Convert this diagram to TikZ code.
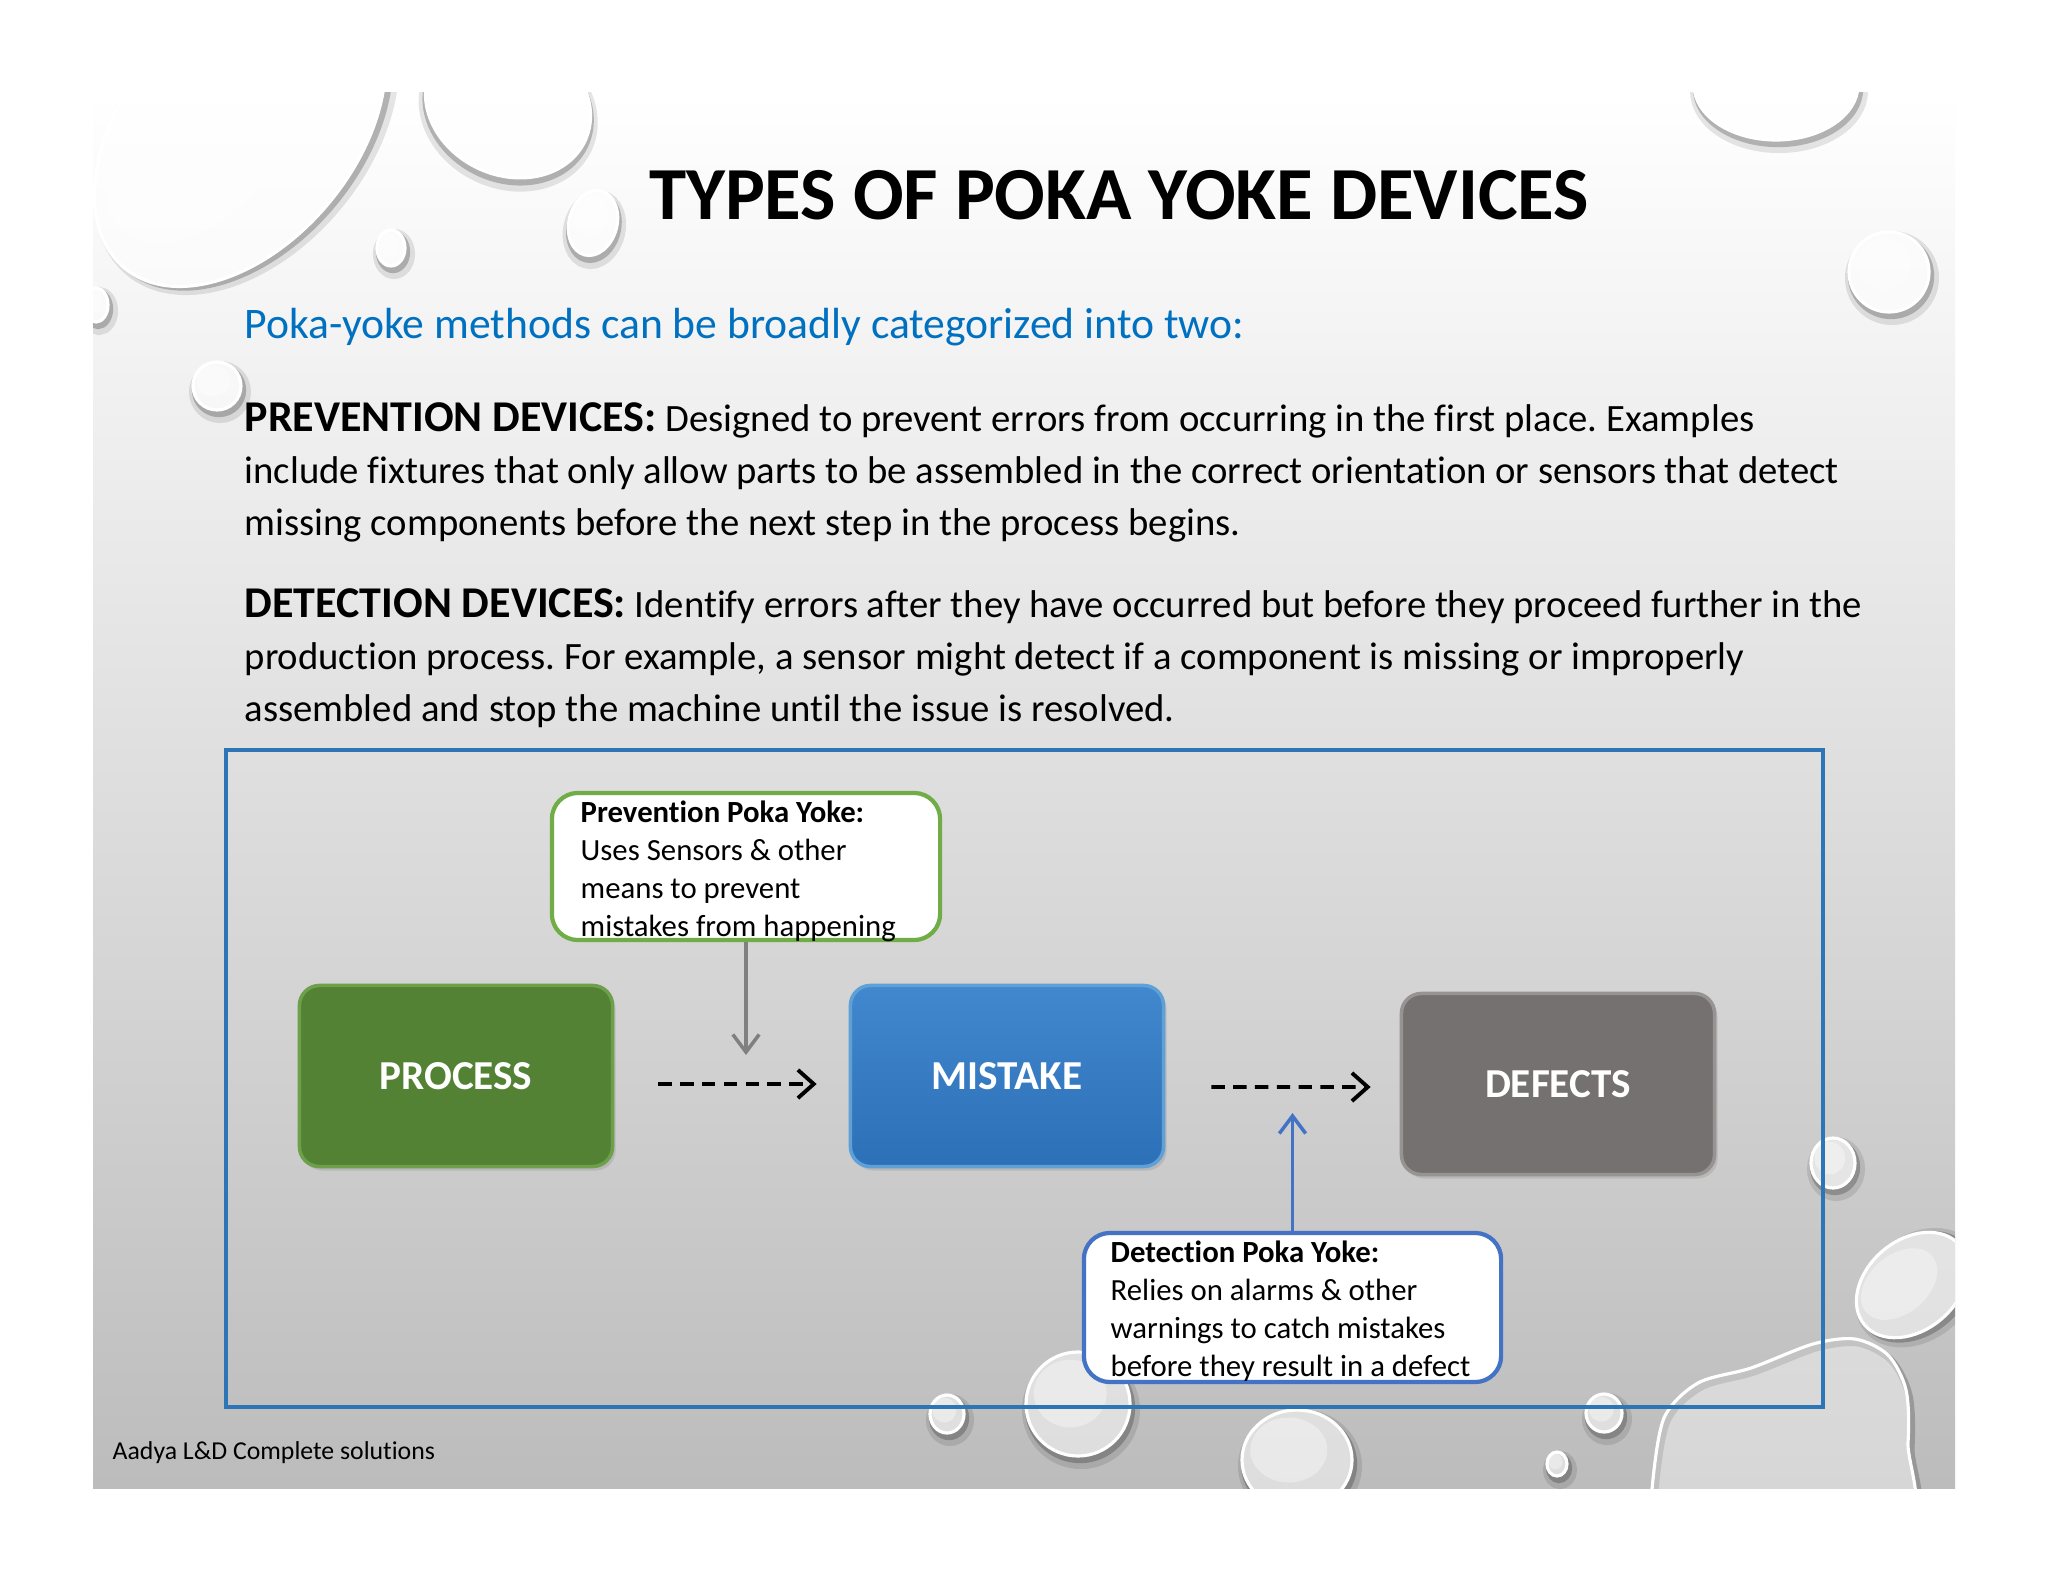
\documentclass[tikz,border=0pt]{standalone}
\usepackage{fontspec}
\setmainfont{Carlito}[Ligatures=NoCommon]
\usetikzlibrary{arrows.meta,shadows}
\definecolor{slideblue}{RGB}{46,117,182}
\definecolor{subblue}{RGB}{0,112,192}
\definecolor{procgreen}{RGB}{84,130,53}
\definecolor{procedge}{RGB}{110,160,75}
\definecolor{mistop}{RGB}{66,136,206}
\definecolor{misbot}{RGB}{44,112,184}
\definecolor{misedge}{RGB}{95,160,215}
\definecolor{defgray}{RGB}{117,113,112}
\definecolor{defedge}{RGB}{150,147,146}
\definecolor{calgreen}{RGB}{112,173,71}
\definecolor{calblue}{RGB}{68,114,196}
\definecolor{arrgray}{RGB}{128,128,128}
\definecolor{bgmid}{RGB}{231,231,231}
\definecolor{bgbot}{RGB}{188,188,188}
\newcommand\wdrop[5]{%
  \begin{scope}[rotate around={#5:(#1,#2)}]
    \begin{scope}[even odd rule]
      \clip (-500,-500) rectangle (2600,2100) (#1,#2) ellipse [x radius=#3, y radius=#4];
      \draw[black, opacity=0.10, line width=4pt] (#1+3,#2+6) ellipse [x radius=#3, y radius=#4];
      \draw[black, opacity=0.22, line width=1.8pt] (#1+2,#2+4) ellipse [x radius=#3, y radius=#4];
    \end{scope}
    \fill[white, opacity=0.5] (#1,#2) ellipse [x radius=#3, y radius=#4];
    \fill[white, opacity=0.35] (#1-0.15*#3,#2-0.2*#4) ellipse [x radius=0.7*#3, y radius=0.65*#4];
    \draw[white, line width=0.9pt] (#1,#2) ellipse [x radius=#3, y radius=#4];
  \end{scope}}
\frenchspacing
\begin{document}
\begin{tikzpicture}[x=0.01cm, y=-0.01cm,
  txt/.style={inner sep=0pt, anchor=base west},
  bodyf/.style={font=\fontsize{11}{14.8}\selectfont},
  callf/.style={font=\fontsize{8.75}{10.8}\selectfont},
  stepbox/.style={rounded corners=0.2cm, minimum width=3.13cm, minimum height=1.81cm,
    line width=1pt, text=white, font=\bfseries\fontsize{11.7}{14}\selectfont,
    drop shadow={opacity=0.25, shadow xshift=0.03cm, shadow yshift=-0.04cm}},
  callout/.style={fill=white, rounded corners=0.26cm, line width=1.2pt},
  dasharrow/.style={black, line width=1.1pt, dash pattern=on 3.8pt off 2.4pt,
    -{Straight Barb[length=4.5pt, width=8pt, line width=1.1pt]}},
  solidarrow/.style={line width=1pt, -{Straight Barb[length=5pt, width=7.5pt]}}]
\useasboundingbox (0,0) rectangle (2048,1582);
\fill[white] (0,0) rectangle (2048,1582);
\shade[top color=white, middle color=bgmid, bottom color=bgbot] (93,93) rectangle (1955,1488);
\begin{scope}
  \clip (93,93) rectangle (1955,1488);
  \wdrop{240}{130}{180}{115}{50}
  \wdrop{508}{105}{85}{70}{-25}
  \wdrop{593}{223}{24}{33}{-15}
  \wdrop{391}{248}{14}{18}{0}
  \wdrop{96}{305}{12}{17}{0}
  \wdrop{217}{386}{24}{24}{0}
  \wdrop{1776}{85}{82}{55}{0}
  \wdrop{1889}{272}{40}{40}{0}
  \wdrop{1833}{1163}{22}{25}{0}
  \wdrop{1912}{1285}{62}{45}{40}
  \wdrop{1604}{1413}{18}{19}{0}
  \wdrop{1557}{1464}{10}{12}{0}
  \wdrop{1297}{1460}{55}{50}{0}
  \wdrop{1078}{1404}{52}{52}{0}
  \wdrop{947}{1414}{17}{19}{0}
  \draw[black, opacity=0.2, line width=2pt] plot[smooth cycle] coordinates
    {(1655,1540) (1655,1490) (1667,1421) (1701,1387) (1754,1372) (1816,1348) (1858,1343) (1891,1360) (1909,1395) (1911,1448) (1901,1540)};
  \fill[white, opacity=0.4] plot[smooth cycle] coordinates
    {(1652,1540) (1652,1489) (1664,1418) (1698,1383) (1751,1368) (1813,1344) (1855,1339) (1888,1355) (1906,1390) (1908,1443) (1898,1540)};
  \draw[white, line width=0.9pt] plot[smooth cycle] coordinates
    {(1652,1540) (1652,1489) (1664,1418) (1698,1383) (1751,1368) (1813,1344) (1855,1339) (1888,1355) (1906,1390) (1908,1443) (1898,1540)};
\end{scope}
% title and text
\node[inner sep=0pt, anchor=base, font=\bfseries\fontsize{21.3}{25}\selectfont] (title) at (1119,219) {TYPES OF POKA YOKE DEVICES};
\node[txt, text=subblue, font=\fontsize{12.4}{15}\selectfont] (sub) at (244,338) {Poka-yoke methods can be broadly categorized into two:};
\node[txt, bodyf] (pv1) at (244,431) {{\bfseries\fontsize{12.5}{14.8}\selectfont PREVENTION DEVICES:} Designed to prevent errors from occurring in the first place. Examples};
\node[txt, bodyf] (pv2) at (244,483) {include fixtures that only allow parts to be assembled in the correct orientation or sensors that detect};
\node[txt, bodyf] (pv3) at (244,535) {missing components before the next step in the process begins.};
\node[txt, bodyf] (dt1) at (244,617) {{\bfseries\fontsize{12.5}{14.8}\selectfont DETECTION DEVICES:} Identify errors after they have occurred but before they proceed further in the};
\node[txt, bodyf] (dt2) at (244,669) {production process. For example, a sensor might detect if a component is missing or improperly};
\node[txt, bodyf] (dt3) at (244,721) {assembled and stop the machine until the issue is resolved.};
% frame
\draw[slideblue, line width=1.1pt] (226,750) rectangle (1823,1407);
% callouts
\node[callout, draw=calgreen, minimum width=3.88cm, minimum height=1.47cm] (prev) at (746,866.5) {};
\node[txt, callf] (pr1) at (580,822) {\bfseries Prevention Poka Yoke:};
\node[txt, callf] (pr2) at (580,860) {Uses Sensors \& other};
\node[txt, callf] (pr3) at (580,898) {means to prevent};
\node[txt, callf] (pr4) at (580,936) {mistakes from happening};
\node[callout, draw=calblue, minimum width=4.17cm, minimum height=1.49cm] (det) at (1292.5,1307.5) {};
\node[txt, callf] (de1) at (1110,1262) {\bfseries Detection Poka Yoke:};
\node[txt, callf] (de2) at (1110,1300) {Relies on alarms \& other};
\node[txt, callf] (de3) at (1110,1338) {warnings to catch mistakes};
\node[txt, callf] (de4) at (1110,1376) {before they result in a defect};
% boxes
\node[stepbox, fill=procgreen, draw=procedge] (process) at (456,1076) {PROCESS};
\node[stepbox, top color=mistop, bottom color=misbot, draw=misedge] (mistake) at (1007,1076) {MISTAKE};
\node[stepbox, fill=defgray, draw=defedge] (defects) at (1558,1084) {DEFECTS};
% connectors
\draw[dasharrow, shorten <=0.44cm, shorten >=0.32cm] ([yshift=-0.08cm]process.east) -- ([yshift=-0.08cm]mistake.west);
\draw[dasharrow, shorten <=0.46cm, shorten >=0.29cm] ([yshift=-0.11cm]mistake.east) -- ([yshift=-0.03cm]defects.west);
\coordinate (ptip) at (746,1055);
\draw[solidarrow, arrgray] (prev.south) -- (ptip);
\coordinate (dtip) at (1292.5,1113);
\draw[solidarrow, calblue] (det.north) -- (dtip);
% footer
\node[txt, font=\fontsize{7.33}{9}\selectfont] (foot) at (112,1459) {Aadya L\&D Complete solutions};
\end{tikzpicture}
\end{document}
